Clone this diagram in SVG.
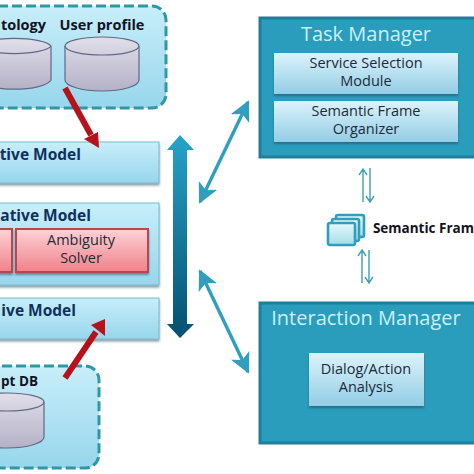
<svg xmlns="http://www.w3.org/2000/svg" width="474" height="474" viewBox="0 0 474 474">
<defs>
<linearGradient id="lb" x1="0" y1="0" x2="0" y2="1"><stop offset="0" stop-color="#dcf3fb"/><stop offset="1" stop-color="#93cde5"/></linearGradient>
<linearGradient id="panel" x1="0" y1="0" x2="0" y2="1"><stop offset="0" stop-color="#c8eefa"/><stop offset="1" stop-color="#97d6ec"/></linearGradient>
<linearGradient id="cyl" x1="0" y1="0" x2="0" y2="1"><stop offset="0" stop-color="#e0dfe9"/><stop offset="1" stop-color="#b4b1c6"/></linearGradient>
<linearGradient id="red" x1="0" y1="0" x2="0" y2="1"><stop offset="0" stop-color="#fcd3d6"/><stop offset="1" stop-color="#f08089"/></linearGradient>
<linearGradient id="bar" x1="0" y1="0" x2="0" y2="1"><stop offset="0" stop-color="#27a3c8"/><stop offset="1" stop-color="#04506f"/></linearGradient>
<linearGradient id="frame" x1="0" y1="0" x2="0" y2="1"><stop offset="0" stop-color="#e6f7fa"/><stop offset="1" stop-color="#a5dde8"/></linearGradient>
<filter id="sh" x="-10%" y="-10%" width="120%" height="130%"><feDropShadow dx="0" dy="2" stdDeviation="1.2" flood-color="#1c4a5c" flood-opacity="0.55"/></filter>
<marker id="ah" viewBox="0 0 10 10" refX="9" refY="5" markerWidth="6" markerHeight="6" orient="auto-start-reverse"><path d="M0 0L10 5L0 10L2.5 5Z" fill="#2f9fbd"/></marker>
</defs>
<style>
text{font-family:"Open Sans","Liberation Sans",sans-serif}
.c{text-anchor:middle}
.e{text-anchor:end}
.db{font-size:14.5px;font-weight:700;fill:#12131f}
.model{font-size:15.5px;font-weight:700;fill:#10305e}
.inner{font-size:14.5px;fill:#1d2a38}
.mgr{font-size:20px;fill:#c9f1f5}
.panel{fill:url(#panel);stroke:#7db9cd;stroke-width:1;filter:url(#sh)}
.dash{fill:url(#panel);stroke:#2e98a8;stroke-width:3;stroke-dasharray:10 4}
.cyl{fill:url(#cyl);stroke:#5e6a85;stroke-width:1.2}
.mgrbox{fill:#2a9dbc;stroke:#1f7f99;stroke-width:3}
.inbox{fill:url(#lb);filter:url(#sh)}
.redbox{fill:url(#red);stroke:#b8444f;stroke-width:2;filter:url(#sh)}
.thin{stroke:#2f9fbd;stroke-width:3.4;fill:none;marker-start:url(#ah);marker-end:url(#ah)}
.tiny{stroke:#3fa0b5;stroke-width:1.4;fill:none}
.frame{fill:url(#frame);stroke:#2f9fbd;stroke-width:2.6}
</style>
<g id="knowledge-panel">
<rect class="dash" x="-30" y="6" width="196" height="102" rx="14"/>
<text class="db e" x="46" y="30">tology</text>
<text class="db c" x="102" y="30">User profile</text>
<path class="cyl" d="M-22 46A37 9 0 0 1 51 46V80A37 11 0 0 1 -22 80Z"/>
<path d="M-22 46A37 9 0 0 0 51 46" fill="none" stroke="#5e6a85" stroke-width="1.2"/>
<path class="cyl" d="M65 46A37 9 0 0 1 139 46V80A37 11 0 0 1 65 80Z"/>
<path d="M65 46A37 9 0 0 0 139 46" fill="none" stroke="#5e6a85" stroke-width="1.2"/>
</g>
<g id="model-top">
<rect class="panel" x="-10" y="142" width="169" height="41"/>
<text class="model e" x="81" y="160">tive Model</text>
</g>
<g id="model-middle">
<rect class="panel" x="-10" y="203" width="169" height="82"/>
<text class="model e" x="91" y="221">ative Model</text>
<rect class="redbox" x="-20" y="229" width="32" height="43"/>
<rect class="redbox" x="16" y="229" width="132" height="43"/>
<text class="inner c" x="81" y="245">Ambiguity</text>
<text class="inner c" x="81" y="263">Solver</text>
</g>
<g id="model-bottom">
<rect class="panel" x="-10" y="298" width="169" height="41"/>
<text class="model e" x="76" y="316">ive Model</text>
</g>
<g id="concept-panel">
<rect class="dash" x="-40" y="366" width="139" height="102" rx="14"/>
<text class="db e" x="38" y="386" style="font-size:13.5px">pt DB</text>
<path class="cyl" d="M-30 402A37 9 0 0 1 44 402V437A37 11 0 0 1 -30 437Z"/>
<path d="M-30 402A37 9 0 0 0 44 402" fill="none" stroke="#5e6a85" stroke-width="1.2"/>
</g>
<g id="task-manager">
<rect class="mgrbox" x="260" y="18" width="220" height="139"/>
<text class="mgr c" x="366" y="41">Task Manager</text>
<rect class="inbox" x="274" y="53" width="184" height="41"/>
<text class="inner c" x="366" y="68">Service Selection</text>
<text class="inner c" x="366" y="86">Module</text>
<rect class="inbox" x="274" y="101" width="184" height="41"/>
<text class="inner c" x="366" y="116">Semantic Frame</text>
<text class="inner c" x="366" y="134">Organizer</text>
</g>
<g id="semantic-frame">
<rect class="frame" x="336" y="215" width="28" height="22" rx="2"/>
<rect class="frame" x="332" y="219" width="27" height="22" rx="2"/>
<rect class="frame" x="328" y="223" width="27" height="22" rx="2" stroke-width="3"/>
<text class="e" x="474" y="233" font-size="13.5" font-weight="700" fill="#12131f">Semantic Fram</text>
</g>
<g id="interaction-manager">
<rect class="mgrbox" x="260" y="303" width="220" height="140"/>
<text class="mgr c" x="366" y="325">Interaction Manager</text>
<rect class="inbox" x="309" y="353" width="115" height="53"/>
<text class="inner c" x="366" y="374">Dialog/Action</text>
<text class="inner c" x="366" y="392">Analysis</text>
</g>
<g id="connectors">
<path d="M180 135L194 150H187V324H194L180 338L167 324H173V150H167Z" fill="url(#bar)"/>
<line class="thin" x1="248" y1="102" x2="200" y2="202"/>
<line class="thin" x1="248" y1="372" x2="200" y2="271"/>
<path d="M65 88L91 135" stroke="#b5121b" stroke-width="6" fill="none"/><path d="M99 148L84 139L98 132Z" fill="#b5121b"/>
<path d="M65 378L96 332" stroke="#b5121b" stroke-width="6" fill="none"/><path d="M105 319L105 336L91 325Z" fill="#b5121b"/>
<path class="tiny" d="M363 202V170M359 175L363 169L367 175"/>
<path class="tiny" d="M370 168V201M366 196L370 202L374 196"/>
<path class="tiny" d="M362 283V251M358 256L362 250L366 256"/>
<path class="tiny" d="M369 250V282M365 277L369 283L373 277"/>
</g>
</svg>
